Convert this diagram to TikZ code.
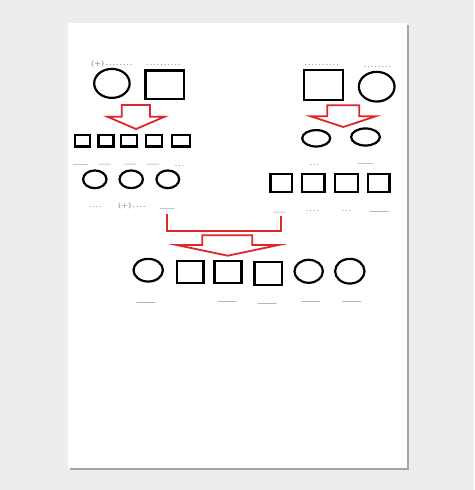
\documentclass[tikz,border=0pt]{standalone}
\usetikzlibrary{shapes.geometric}
\definecolor{bggray}{HTML}{EDEDED}
\definecolor{shadowgray}{HTML}{A5A5A5}
\definecolor{arrred}{HTML}{E0252B}
\definecolor{phgray}{HTML}{7A7A7A}
\begin{document}
\begin{tikzpicture}[x=1pt,y=-1pt,
  shp/.style={draw=black, line width=2.2pt, inner sep=0pt},
  oval/.style={shp, ellipse},
  box/.style={shp, rectangle},
  redarrow/.style={draw=arrred, line width=1.8pt, line join=miter},
  dashlbl/.style={font=\fontsize{#1}{#1}\selectfont\bfseries, text=phgray, inner sep=0pt, anchor=base},
  dotlbl/.style={font=\fontsize{6.3}{6.3}\selectfont\bfseries, text=phgray, inner sep=0pt, anchor=base}
]
% background and page
\useasboundingbox (0,0) rectangle (474,490);
\fill[bggray] (0,0) rectangle (474,490);
\fill[shadowgray] (69.5,24.5) rectangle (409,469.5);
\fill[white] (68,23) rectangle (407,467.5);

% ---------- top-left group ----------
\node[oval, minimum width=35.5pt, minimum height=29pt] (tlC) at (111.9,83.4) {};
\node[box, minimum width=38.2pt, minimum height=28.2pt] (tlR) at (164.5,84.5) {};
\node[dotlbl] (tlL1) at (111.8,65) {(+)\,.\,.\,.\,.\,.\,.\,.\,.};
\node[dotlbl] (tlL2) at (163.5,65) {.\,.\,.\,.\,.\,.\,.\,.\,.\,.};

\draw[redarrow] (121.7,105) -- (150,105) -- (150,116.7) -- (164.7,116.7)
  -- (136,129) -- (107.3,116.7) -- (121.7,116.7) -- cycle;

\node[box, minimum width=15pt, minimum height=11.5pt] (r1) at (82.3,140.8) {};
\node[box, minimum width=15.1pt, minimum height=11.5pt] (r2) at (106,140.8) {};
\node[box, minimum width=16pt, minimum height=11.5pt] (r3) at (129.2,140.8) {};
\node[box, minimum width=16pt, minimum height=11.5pt] (r4) at (154.2,140.8) {};
\node[box, minimum width=17.8pt, minimum height=11.5pt] (r5) at (180.7,140.8) {};

\node[dashlbl=13.3] (d1) at (80.7,168.2) {—};
\node[dashlbl=10.7] (d2) at (104.7,167.5) {—};
\node[dashlbl=10.7] (d3) at (130,167.5) {—};
\node[dashlbl=10.7] (d4) at (153.3,167.5) {—};
\node[dotlbl] (d5) at (179.7,166.2) {.\,.\,.};

\node[oval, minimum width=23.4pt, minimum height=17.7pt] (e1) at (94.8,179.3) {};
\node[oval, minimum width=23.4pt, minimum height=17.7pt] (e2) at (131.2,179.3) {};
\node[oval, minimum width=22.7pt, minimum height=17.7pt] (e3) at (167.8,179.3) {};

\node[dotlbl] (g1) at (95.3,207.2) {.\,.\,.\,.};
\node[dotlbl] (g2) at (131.7,207.2) {(+)\,.\,.\,.\,.};
\node[dashlbl=13.3] (g3) at (167.3,212.5) {—};

% ---------- top-right group ----------
\node[box, minimum width=39pt, minimum height=30.3pt] (trR) at (323.3,85) {};
\node[oval, minimum width=35.7pt, minimum height=29.7pt] (trC) at (376.7,86.7) {};
\node[dotlbl] (trL1) at (321.7,65.8) {.\,.\,.\,.\,.\,.\,.\,.\,.\,.};
\node[dotlbl] (trL2) at (377.5,67.2) {.\,.\,.\,.\,.\,.\,.\,.};

\draw[redarrow] (327.3,105.3) -- (359.3,105.3) -- (359.3,116.3) -- (375.7,116.3)
  -- (343.3,127) -- (310.7,116.3) -- (327.3,116.3) -- cycle;

\node[oval, minimum width=28pt, minimum height=16.4pt] (f1) at (316.2,138.3) {};
\node[oval, minimum width=28.7pt, minimum height=17.1pt] (f2) at (365.5,137) {};

\node[dotlbl] (h1) at (314.7,165.8) {.\,.\,.};
\node[dashlbl=13.3] (h2) at (365.7,167.8) {—};

\node[box, minimum width=21.7pt, minimum height=18.3pt] (s1) at (281.3,183) {};
\node[box, minimum width=22.4pt, minimum height=18.3pt] (s2) at (313.3,183) {};
\node[box, minimum width=23pt, minimum height=18.3pt] (s3) at (346.7,183) {};
\node[box, minimum width=21.7pt, minimum height=18.3pt] (s4) at (378.7,183) {};

\node[dashlbl=10.7] (k1) at (279.3,215.1) {—};
\node[dotlbl] (k2) at (312.5,211.5) {.\,.\,.\,.};
\node[dotlbl] (k3) at (346.5,211.5) {.\,.\,.};
\node[dashlbl=16.7] (k4) at (379.3,216.3) {—};

% ---------- bracket and merge arrow ----------
\coordinate (bl) at (167,214.3);
\coordinate (br) at (281,216);
\draw[redarrow] (bl) -- (167,231) -- (281,231) -- (br);
\draw[redarrow] (202.3,235.3) -- (252.3,235.3) -- (252.3,245) -- (278.7,245)
  -- (227.7,255.7) -- (176.7,245) -- (202.3,245) -- cycle;

% ---------- bottom row ----------
\node[oval, minimum width=29.4pt, minimum height=22.7pt] (b1) at (148.2,270.2) {};
\node[box, minimum width=26.7pt, minimum height=21.7pt] (b2) at (190.2,272) {};
\node[box, minimum width=27.1pt, minimum height=22pt] (b3) at (228,272.2) {};
\node[box, minimum width=27.7pt, minimum height=23pt] (b4) at (268.3,273.3) {};
\node[oval, minimum width=28.4pt, minimum height=23pt] (b5) at (308.7,271.3) {};
\node[oval, minimum width=29.4pt, minimum height=24.7pt] (b6) at (349.8,271.2) {};

\node[dashlbl=16.7] (m1) at (146,307) {—};
\node[dashlbl=16.7] (m2) at (227.2,306.3) {—};
\node[dashlbl=16.7] (m3) at (267.3,308.6) {—};
\node[dashlbl=16.7] (m4) at (310.8,306) {—};
\node[dashlbl=16.7] (m5) at (351.7,306.3) {—};
\end{tikzpicture}
\end{document}
